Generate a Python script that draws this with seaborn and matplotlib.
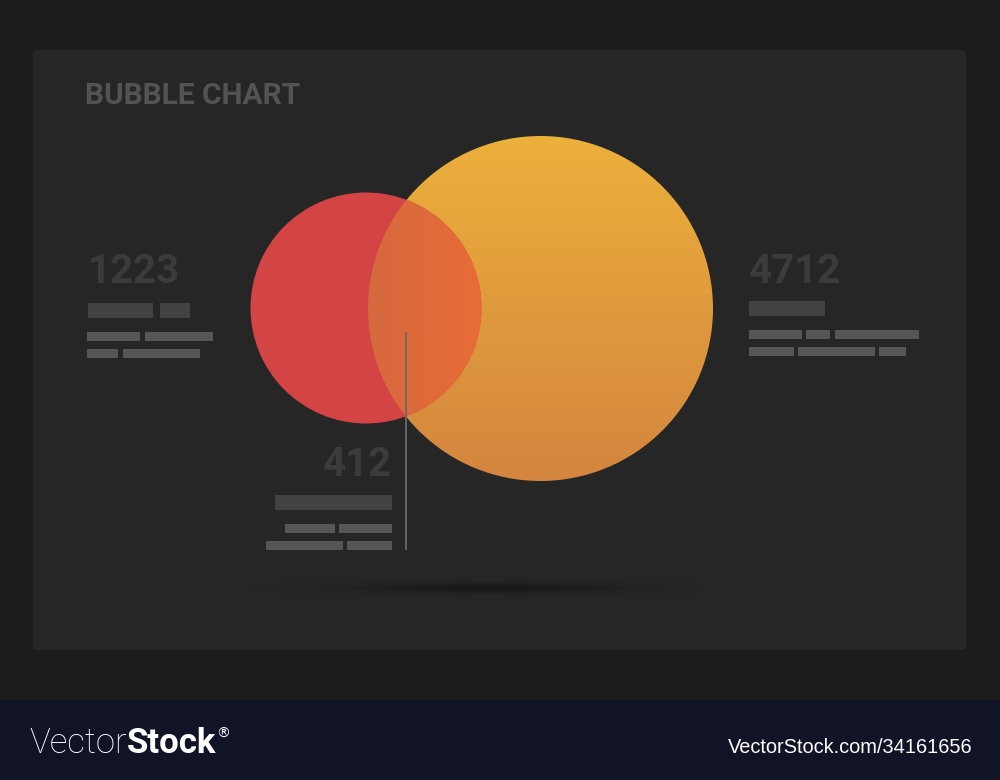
import numpy as np
import matplotlib
matplotlib.use("Agg")
import matplotlib.pyplot as plt
import seaborn as sns
from matplotlib.patches import Circle, Rectangle, FancyBboxPatch, Polygon
from matplotlib.colors import LinearSegmentedColormap
from matplotlib import font_manager as fm

# ---------------- data ----------------
title_text = "BUBBLE CHART"
bubble_names = ["Set A", "Set B"]
bubble_values = [1223, 4712]
overlap_value = 412
value_labels = [str(v) for v in bubble_values] + [str(overlap_value)]
watermark_left = ["Vector", "Stock", "®"]
watermark_right = "VectorStock.com/34161656"

# ---------------- layout / style (pixel-like coordinates) ----------------
W, H = 1000, 780
bubble_centers = [(366, 308), (540.5, 308.5)]
bubble_radii = [115.5, 172.5]
red_col = "#d44444"
yellow_top, yellow_bot = "#ecb03b", "#d4853f"
lens_left, lens_right = "#d6693f", "#e86c37"

# caption placeholder rows: (y_top, height, [(x0, x1), ...], colour)
caption_blocks = [
    [(303, 15, [(88, 153), (160, 190)], "#424242"),
     (332, 9, [(87, 140), (145, 213)], "#565656"),
     (349, 9, [(87, 118), (123, 200)], "#565656")],
    [(301, 15, [(749, 825)], "#424242"),
     (330, 9, [(749, 802), (806, 830), (835, 919)], "#565656"),
     (347, 9, [(749, 794), (798, 875), (879, 906)], "#565656")],
    [(495, 15, [(275, 392)], "#424242"),
     (524, 9, [(285, 335), (339, 392)], "#565656"),
     (541, 9, [(266, 343), (347, 392)], "#565656")],
]
label_pos = [(88, 283, "left"), (749, 283, "left"), (392, 476, "right")]

sns.set_theme(style="dark")
plt.rcParams['font.family'] = ['Roboto', 'DejaVu Sans']

names = {f.name for f in fm.fontManager.ttflist}
if 'Liberation Sans Narrow' in names:
    num_family, num_size = ['Liberation Sans Narrow', 'DejaVu Sans'], 34.5
else:
    num_family, num_size = ['Roboto', 'DejaVu Sans'], 29

fig = plt.figure(figsize=(10, 7.8), dpi=100)
fig.patch.set_facecolor("#1c1c1c")
ax = fig.add_axes([0, 0, 1, 1])
ax.axis("off")

# panel
ax.add_patch(FancyBboxPatch((33, 50), 933, 600, boxstyle="round,pad=0,rounding_size=4",
                            facecolor="#262626", edgecolor="none", zorder=0))
# watermark band
ax.add_patch(Rectangle((0, 700), W, 80, facecolor="#111326", edgecolor="none", zorder=0))

# floor shadow
xs = np.linspace(250, 700, 400)
ys = np.linspace(572, 604, 60)
X, Y = np.meshgrid(xs, ys)
a = 0.38 * np.exp(-((X - 490) / 125) ** 2 - ((Y - 588) / 5.0) ** 2)
shadow = np.zeros((len(ys), len(xs), 4))
shadow[..., 3] = a
ax.imshow(shadow, extent=(250, 700, 604, 572), origin="upper", aspect="auto", zorder=1,
          interpolation="bilinear")

# bubble B (yellow, vertical gradient)
(c2x, c2y), r2 = bubble_centers[1], bubble_radii[1]
circ2 = Circle((c2x, c2y), r2, facecolor="none", edgecolor="none", zorder=2)
ax.add_patch(circ2)
cmap_y = LinearSegmentedColormap.from_list("y", [yellow_top, yellow_bot])
grad = np.linspace(0, 1, 256).reshape(-1, 1)
im2 = ax.imshow(grad, cmap=cmap_y, extent=(c2x - r2, c2x + r2, c2y + r2, c2y - r2),
                origin="upper", aspect="auto", zorder=2, interpolation="bilinear")
im2.set_clip_path(circ2)

# bubble A (red)
(c1x, c1y), r1 = bubble_centers[0], bubble_radii[0]
ax.add_patch(Circle((c1x, c1y), r1, facecolor=red_col, edgecolor="none", zorder=3))

# overlap lens
d = np.hypot(c2x - c1x, c2y - c1y)
aa = (d ** 2 + r1 ** 2 - r2 ** 2) / (2 * d)
hh = np.sqrt(r1 ** 2 - aa ** 2)
t1 = np.arctan2(hh, aa)
t2 = np.arctan2(hh, d - aa)
ang1 = np.linspace(-t1, t1, 200)
ang2 = np.linspace(np.pi - t2, np.pi + t2, 200)
pts = np.vstack([np.column_stack([c1x + r1 * np.cos(ang1), c1y + r1 * np.sin(ang1)]),
                 np.column_stack([c2x + r2 * np.cos(ang2), c2y + r2 * np.sin(ang2)])])
lens = Polygon(pts, closed=True, facecolor="none", edgecolor="none", zorder=4)
ax.add_patch(lens)
cmap_l = LinearSegmentedColormap.from_list("l", [lens_left, lens_right])
hgrad = np.linspace(0, 1, 256).reshape(1, -1)
lx0, lx1 = c2x - r2, c1x + r1
im3 = ax.imshow(hgrad, cmap=cmap_l, extent=(lx0, lx1, c1y + r1, c1y - r1),
                origin="upper", aspect="auto", zorder=4, interpolation="bilinear")
im3.set_clip_path(lens)

# leader line from the overlap
ix = c1x + aa
ax.plot([ix, ix], [332, 550], color="#6b6b6b", lw=1.3, zorder=5, solid_capstyle="butt")

# caption placeholders
for block in caption_blocks:
    for (yt, hgt, segs, col) in block:
        for (x0, x1) in segs:
            ax.add_patch(Rectangle((x0, yt), x1 - x0, hgt, facecolor=col, edgecolor="none", zorder=2))

# value labels
for lab, (x, y, ha) in zip(value_labels, label_pos):
    ax.text(x, y, lab, ha=ha, va="baseline", fontsize=num_size, fontweight="bold",
            family=num_family, color="#3b3b3b", zorder=6)

# title
ax.text(85, 104, title_text, ha="left", va="baseline", fontsize=21.5, fontweight="bold",
        family=['Roboto', 'DejaVu Sans'], color="#535353", zorder=6)

# watermark
t_v = ax.text(29, 753, watermark_left[0], ha="left", va="baseline", fontsize=25,
              fontweight="light", family=['Roboto', 'DejaVu Sans'], color="white", zorder=6)
t_s = ax.annotate(watermark_left[1], xy=(1, 0), xycoords=t_v, ha="left", va="bottom",
                  fontsize=25, fontweight="bold", family=['Roboto', 'DejaVu Sans'],
                  color="white", zorder=6)
ax.annotate(watermark_left[2], xy=(1, 1), xycoords=t_s, ha="left", va="top",
            fontsize=10, family=['DejaVu Sans'], color="white", zorder=6)
ax.text(973, 753, watermark_right, ha="right", va="baseline", fontsize=14.4,
        family=['Liberation Sans', 'DejaVu Sans'], color="white", zorder=6)

ax.set_xlim(0, W)
ax.set_ylim(H, 0)
fig.savefig("out.png", dpi=100, facecolor=fig.get_facecolor())
